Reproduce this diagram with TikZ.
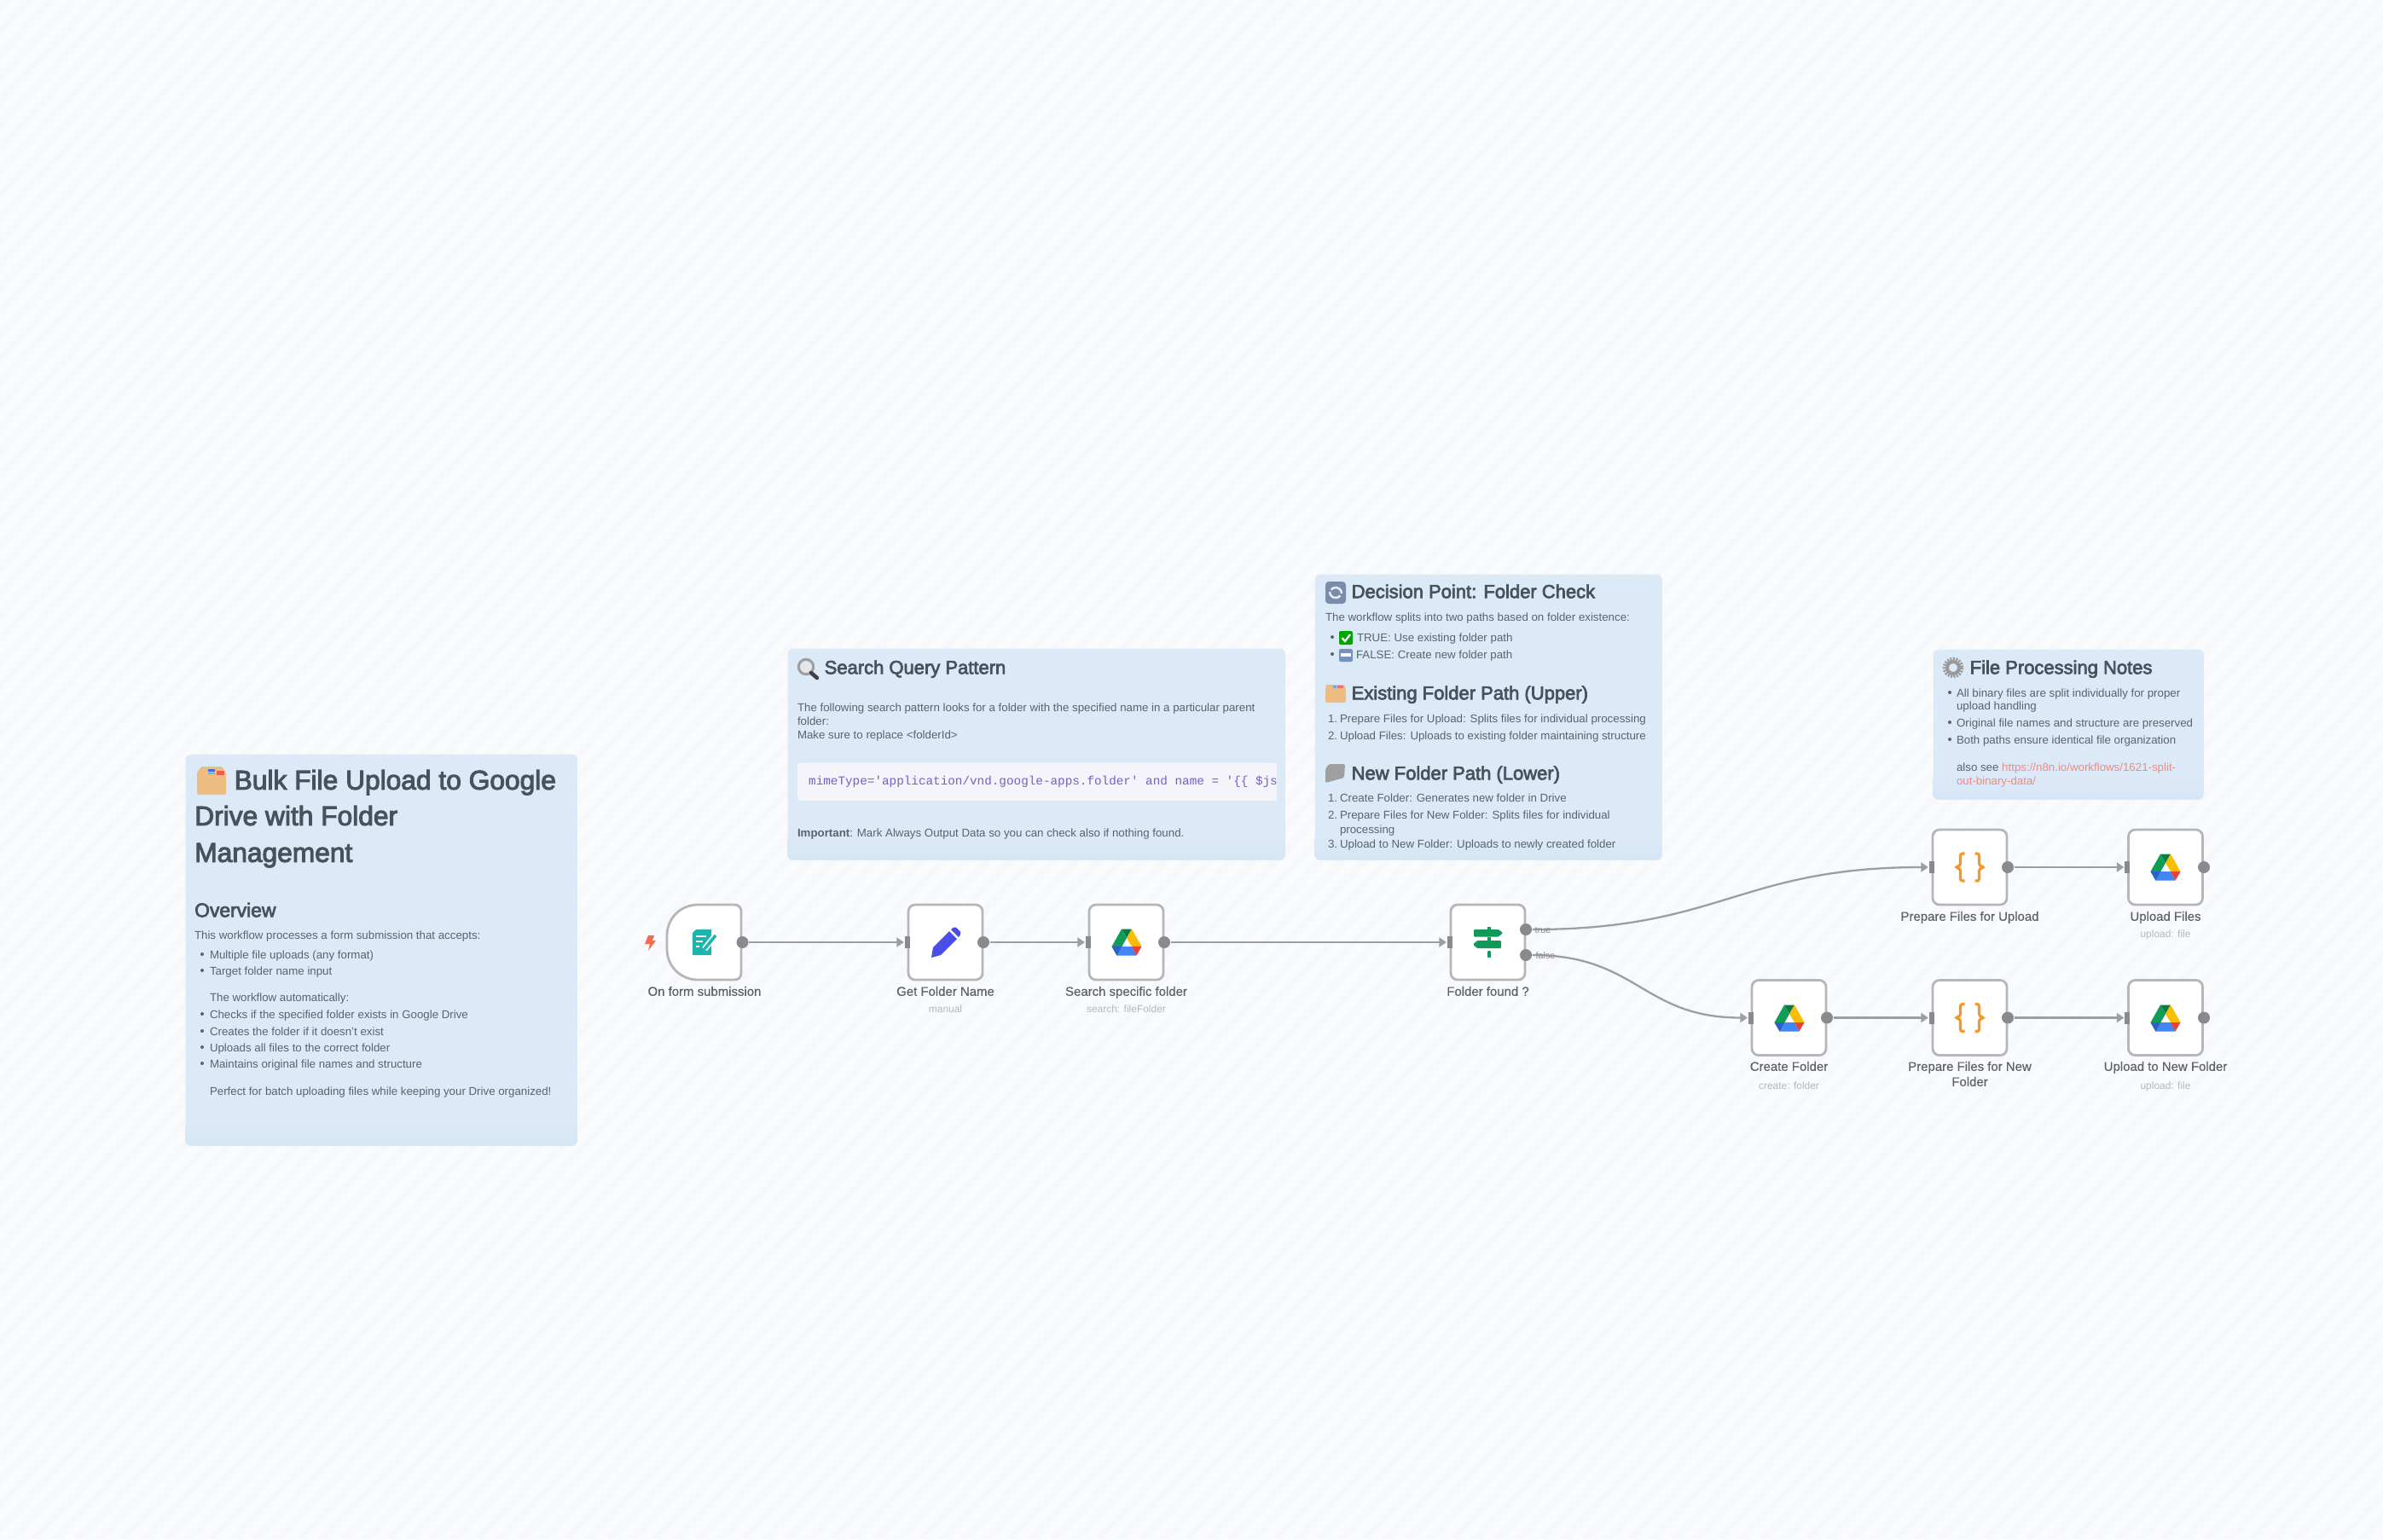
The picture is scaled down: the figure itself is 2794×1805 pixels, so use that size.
\documentclass[tikz,border=0pt]{standalone}
\usepackage{fontspec}
\setmainfont{Liberation Sans}
\newfontfamily\hf[FakeBold=3.2]{Liberation Sans}
\newfontfamily\lf[FakeBold=0.5]{Liberation Sans}
\newfontfamily\cf{Liberation Mono}
\usetikzlibrary{arrows.meta}
\definecolor{bgbase}{HTML}{F7F8FB}
\definecolor{bgstripe}{HTML}{FAFBFD}
\definecolor{notefill}{HTML}{DCEAF8}
\definecolor{noteshade}{HTML}{D6E5F4}
\definecolor{headc}{HTML}{48525C}
\definecolor{bodyc}{HTML}{59636E}
\definecolor{labelc}{HTML}{5E6268}
\definecolor{subc}{HTML}{B4B7BB}
\definecolor{wirec}{HTML}{9C9EA0}
\definecolor{portc}{HTML}{888A8D}
\definecolor{boxc}{HTML}{B4B6B9}
\definecolor{codec}{HTML}{6E63C9}
\definecolor{codebg}{HTML}{F4F4FA}
\definecolor{linkc}{HTML}{F08A84}
\definecolor{tanc}{HTML}{EDBC80}
\definecolor{dgreen}{HTML}{0F9D58}
\definecolor{dyellow}{HTML}{FBBC04}
\definecolor{dblue}{HTML}{4285F4}
\definecolor{dred}{HTML}{EA4335}
\definecolor{ddark}{HTML}{0B7A45}
\definecolor{dnavy}{HTML}{2A62C8}
\definecolor{bracec}{HTML}{F7962A}
\definecolor{ifc}{HTML}{0F9A5A}
\definecolor{penc}{HTML}{4A4DE8}
\definecolor{formc}{HTML}{1BB5AE}
\definecolor{boltc}{HTML}{F9694E}
\tikzset{
  x=0.01cm, y=-0.01cm,
  note/.style={anchor=north west, rounded corners=.06cm, fill=notefill, draw=none, inner sep=0},
  tx/.style={anchor=mid west, yshift=.04cm, inner sep=0, outer sep=0, text=bodyc, font=\fontsize{3.78}{4.2}\selectfont},
  title/.style={anchor=mid west, yshift=-.015cm, inner sep=0, text=headc, font=\hf\fontsize{9.02}{10}\selectfont},
  htwo/.style={anchor=mid west, yshift=.01cm, inner sep=0, text=headc, font=\hf\fontsize{6.5}{7.5}\selectfont},
  hthree/.style={anchor=mid west, yshift=.02cm, inner sep=0, text=headc, font=\hf\fontsize{6.25}{7}\selectfont},
  wfbox/.style={draw=boxc, line width=.028cm, fill=white, rounded corners=.08cm, minimum width=.87cm, minimum height=.88cm, inner sep=0},
  ghost/.style={minimum width=.87cm, minimum height=.88cm, inner sep=0},
  outport/.style={circle, fill=portc, minimum size=.14cm, inner sep=0},
  inport/.style={rectangle, fill=portc, minimum width=.06cm, minimum height=.14cm, inner sep=0},
  wire/.style={draw=wirec, line width=.023cm, -{Triangle[length=.085cm,width=.11cm]}},
  nlabel/.style={anchor=mid, yshift=.045cm, inner sep=0, text=labelc, align=center, font=\lf\fontsize{4.25}{4.9}\selectfont},
  nsub/.style={anchor=mid, yshift=.035cm, inner sep=0, text=subc, font=\fontsize{3.4}{4}\selectfont},
  wlabel/.style={anchor=mid, yshift=.05cm, inner sep=0, text=black!45, font=\fontsize{3.1}{3.6}\selectfont},
}
\newcommand{\drv}[2]{%
  \begin{scope}[shift={(#1,#2)}]
    \fill[ddark] (-6,-15.5) -- (6,-15.5) -- (0,-5) -- cycle;
    \fill[dgreen] (-6,-15.5) -- (0,-5) -- (-11.5,15.5) -- (-17.5,5) -- cycle;
    \fill[dyellow] (6,-15.5) -- (17.5,5) -- (6,5) -- (0,-5) -- cycle;
    \fill[dblue] (-6,5) -- (6,5) -- (11.5,15.5) -- (-11.5,15.5) -- cycle;
    \fill[dnavy] (-17.5,5) -- (-6,5) -- (-11.5,15.5) -- cycle;
    \fill[dred] (17.5,5) -- (11.5,15.5) -- (6,5) -- cycle;
  \end{scope}}
\newcommand{\brc}[2]{%
  \begin{scope}[shift={(#1,#2)}]
    \draw[bracec, line width=.032cm, rounded corners=.025cm] (-6,-16) -- (-11,-16) -- (-11,-2) -- (-17,0) -- (-11,2) -- (-11,16) -- (-6,16);
    \draw[bracec, line width=.032cm, rounded corners=.025cm] (6,-16) -- (11,-16) -- (11,-2) -- (17,0) -- (11,2) -- (11,16) -- (6,16);
  \end{scope}}
\newcommand{\fshade}[3]{\shade[top color=notefill, bottom color=noteshade, rounded corners=.06cm] (#1,#3-28) rectangle (#2,#3);}
\newcommand{\bul}[2]{\fill[bodyc] (#1,#2) circle[radius=2];}
\begin{document}
\begin{tikzpicture}
\useasboundingbox (0,0) rectangle (2794,1805);
\fill[bgbase] (0,0) rectangle (2794,1805);
\begin{scope}
  \clip (0,0) rectangle (2794,1805);
  \foreach \k in {0,...,180}{
    \draw[bgstripe, line width=.1cm] ({\k*26},-5) -- ({\k*26-1720},1810);
  }
\end{scope}

% ---------- sticky notes
\node[note, minimum width=4.59cm, minimum height=4.59cm] (noteA) at (217,884) {};
\fshade{217}{676}{1343}
\node[note, minimum width=5.83cm, minimum height=2.48cm] (noteB) at (923,760) {};
\fshade{923}{1506}{1008}
\node[note, minimum width=4.07cm, minimum height=3.35cm] (noteC) at (1541,673) {};
\fshade{1541}{1948}{1008}
\node[note, minimum width=3.17cm, minimum height=1.76cm] (noteD) at (2266,761) {};
\fshade{2266}{2583}{937}

% note A
\fill[tanc, rounded corners=.02cm] (231,905) rectangle (265,932);
\fill[tanc] (236,899) -- (260,899) -- (265,906) -- (231,906) -- cycle;
\fill[dred!85!white] (254,904) rectangle (263,909);
\fill[dblue!85!black] (244,902) rectangle (252,904.5);
\fill[dblue!70!white] (244,906) rectangle (252,908);
\node[title] (tA1) at (274,915) {Bulk File Upload to Google};
\node[title] (tA2) at (227.5,957) {Drive with Folder};
\node[title] (tA3) at (227.5,1000) {Management};
\node[htwo] (tA4) at (227.5,1067) {Overview};
\node[tx] (tA5) at (228,1096) {This workflow processes a form submission that accepts:};
\bul{237}{1119}\bul{237}{1138}
\node[tx] (tA6) at (246,1119) {Multiple file uploads (any format)};
\node[tx] (tA7) at (246,1138) {Target folder name input};
\node[tx] (tA8) at (246,1169) {The workflow automatically:};
\bul{237}{1189}\bul{237}{1209}\bul{237}{1228}\bul{237}{1247}
\node[tx] (tA9) at (246,1189) {Checks if the specified folder exists in Google Drive};
\node[tx] (tA10) at (246,1209) {Creates the folder if it doesn't exist};
\node[tx] (tA11) at (246,1228) {Uploads all files to the correct folder};
\node[tx] (tA12) at (246,1247) {Maintains original file names and structure};
\node[tx] (tA13) at (246,1279) {Perfect for batch uploading files while keeping your Drive organized!};

% note B
\draw[gray!75, line width=.035cm] (945,782) circle[radius=8.5];
\fill[white!80!gray!70!notefill] (945,782) circle[radius=7];
\draw[black!75, line width=.045cm, line cap=round] (951,789) -- (958,795);
\node[hthree] (tB1) at (966,783) {Search Query Pattern};
\node[tx] (tB2) at (935,829) {The following search pattern looks for a folder with the specified name in a particular parent};
\node[tx] (tB3) at (935,845) {folder:};
\node[tx] (tB4) at (935,861) {Make sure to replace <folderId>};
\node[anchor=north west, fill=codebg, rounded corners=.02cm, minimum width=5.615cm, minimum height=.44cm, inner sep=0] (codebox) at (934.5,894) {};
\begin{scope}
  \clip (934.5,894) rectangle (1496,938);
  \node[anchor=mid west, yshift=.05cm, inner sep=0, text=codec, font=\cf\fontsize{4.07}{5}\selectfont] (code) at (947.5,916) {mimeType='application/vnd.google-apps.folder' and name = '\{\{ \$json};
\end{scope}
\node[tx] (tB5) at (935,976) {\textbf{Important}: Mark Always Output Data so you can check also if nothing found.};

% note C
\fill[black!25!dblue!40!gray!80!notefill, rounded corners=.04cm] (1554,682) rectangle (1578,708);
\draw[white!85!dblue, line width=.025cm] (1559,694) arc[start angle=180, end angle=40, radius=7];
\draw[white!85!dblue, line width=.025cm] (1573,696) arc[start angle=0, end angle=-140, radius=7];
\node[hthree] (tC1) at (1584,694) {Decision Point: Folder Check};
\node[tx] (tC2) at (1554,723) {The workflow splits into two paths based on folder existence:};
\bul{1562}{747}\bul{1562}{767}
\fill[green!65!black, rounded corners=.02cm] (1570,740) rectangle (1586,756);
\draw[white, line width=.022cm] (1573.5,748) -- (1577,752) -- (1583,744);
\node[tx] (tC3) at (1591,747) {TRUE: Use existing folder path};
\fill[dblue!45!gray!85!notefill, rounded corners=.02cm] (1570,761) rectangle (1586,776);
\fill[white!85!notefill] (1572,766) rectangle (1584,770);
\node[tx] (tC4) at (1590,767) {FALSE: Create new folder path};
\fill[tanc, rounded corners=.015cm] (1554,808) rectangle (1578,824);
\fill[tanc] (1555,803) -- (1576,803) -- (1578,809) -- (1554,809) -- cycle;
\fill[dred!75!white] (1568,804) rectangle (1575,807);
\fill[dblue!75!white] (1563,804) rectangle (1567,807);
\node[hthree] (tC5) at (1584,813) {Existing Folder Path (Upper)};
\node[tx] (tC6a) at (1557,842) {1.};
\node[tx] (tC6) at (1571,842) {Prepare Files for Upload: Splits files for individual processing};
\node[tx] (tC7a) at (1557,862) {2.};
\node[tx] (tC7) at (1571,862) {Upload Files: Uploads to existing folder maintaining structure};
\fill[gray!75, rounded corners=.015cm] (1558,896) -- (1577,896) -- (1576,912) -- (1554,918) -- (1554,902) -- cycle;
\node[hthree] (tC8) at (1584,907) {New Folder Path (Lower)};
\node[tx] (tC9a) at (1557,935) {1.};
\node[tx] (tC9) at (1571,935) {Create Folder: Generates new folder in Drive};
\node[tx] (tC10a) at (1557,955) {2.};
\node[tx] (tC10) at (1571,955) {Prepare Files for New Folder: Splits files for individual};
\node[tx] (tC11) at (1571,972) {processing};
\node[tx] (tC12a) at (1557,989) {3.};
\node[tx] (tC12) at (1571,989) {Upload to New Folder: Uploads to newly created folder};

% note D
\draw[gray!80, line width=.035cm, dash pattern=on .02cm off .015cm] (2290,783) circle[radius=10.5];
\draw[gray!80, line width=.04cm] (2290,783) circle[radius=7];
\node[hthree] (tD1) at (2309,783) {File Processing Notes};
\bul{2286}{812}\bul{2286}{847}\bul{2286}{867}
\node[tx] (tD2) at (2294,812) {All binary files are split individually for proper};
\node[tx] (tD3) at (2294,827) {upload handling};
\node[tx] (tD4) at (2294,847) {Original file names and structure are preserved};
\node[tx] (tD5) at (2294,867) {Both paths ensure identical file organization};
\node[tx] (tD6) at (2294,899) {also see \textcolor{linkc}{https://n8n.io/workflows/1621-split-}};
\node[tx, text=linkc] (tD7) at (2294,915) {out-binary-data/};

% ---------- workflow nodes
\node[ghost] (form) at (825.5,1105) {};
\draw[draw=boxc, line width=.028cm, fill=white] (861,1061) -- (818,1061) .. controls (798,1061) and (782,1077) .. (782,1097) -- (782,1113) .. controls (782,1133) and (798,1149) .. (818,1149) -- (861,1149) .. controls (866,1149) and (869,1146) .. (869,1141) -- (869,1069) .. controls (869,1064) and (866,1061) .. (861,1061) -- cycle;
\node[wfbox] (get) at (1108.5,1105) {};
\node[wfbox] (search) at (1320.5,1105) {};
\node[wfbox] (iff) at (1744.5,1105) {};
\node[wfbox] (create) at (2097.5,1193.5) {};
\node[wfbox] (prepU) at (2309.5,1017) {};
\node[wfbox] (upF) at (2539,1017) {};
\node[wfbox] (prepN) at (2309.5,1193.5) {};
\node[wfbox] (upN) at (2539,1193.5) {};

% ports
\node[outport] (form-out) at (870.5,1105) {};
\node[outport] (get-out) at (1153,1105) {};
\node[outport] (search-out) at (1365,1105) {};
\node[outport] (iff-true) at (1789,1090) {};
\node[outport] (iff-false) at (1789,1120) {};
\node[outport] (create-out) at (2142,1193.5) {};
\node[outport] (prepU-out) at (2354,1017) {};
\node[outport] (upF-out) at (2584,1017) {};
\node[outport] (prepN-out) at (2354,1193.5) {};
\node[outport] (upN-out) at (2584,1193.5) {};
\node[inport] (get-in) at (get.west) {};
\node[inport] (search-in) at (search.west) {};
\node[inport] (iff-in) at (iff.west) {};
\node[inport] (create-in) at (create.west) {};
\node[inport] (prepU-in) at (prepU.west) {};
\node[inport] (upF-in) at (upF.west) {};
\node[inport] (prepN-in) at (prepN.west) {};
\node[inport] (upN-in) at (upN.west) {};

% connectors
\draw[wire] (form-out) -- (get-in);
\draw[wire] (get-out) -- (search-in);
\draw[wire] (search-out) -- (iff-in);
\draw[wire] (iff-true) to[out=0, in=180, looseness=1.2] (prepU-in);
\draw[wire] (iff-false) to[out=0, in=180, looseness=1.2] (create-in);
\draw[wire] (create-out) -- (prepN-in);
\draw[wire] (prepU-out) -- (upF-in);
\draw[wire] (prepN-out) -- (upN-in);
\node[wlabel] (l-true) at (1809,1090) {true};
\node[wlabel] (l-false) at (1812,1120) {false};

% icons
\fill[boltc] (760,1097) -- (767,1097) -- (765,1103) -- (769,1103) -- (760,1115) -- (762,1107) -- (756,1107) -- cycle;
\fill[formc] (812,1094) -- (816,1090) -- (834,1090) -- (834,1120) -- (812,1120) -- cycle;
\draw[white, line width=.02cm] (816,1098) -- (828,1098) (816,1104) -- (824,1104) (816,1110) -- (820,1110);
\draw[white, line width=.07cm] (826,1113) -- (838,1098);
\draw[formc, line width=.035cm] (826,1113) -- (839,1097);
\fill[penc] (1092,1123) -- (1094,1111) -- (1113,1092) -- (1122,1101) -- (1103,1120) -- cycle;
\fill[penc] (1115,1090) -- (1118,1087.5) -- (1121,1087.5) -- (1126,1092.5) -- (1126,1096) -- (1124,1099) -- cycle;
\drv{1321}{1105}
\fill[ifc] (1744,1087) rectangle (1748,1090);
\fill[ifc, rounded corners=.01cm] (1728,1090) -- (1757,1090) -- (1762,1094) -- (1757,1098.5) -- (1728,1098.5) -- cycle;
\fill[ifc] (1744,1098.5) rectangle (1748,1103);
\fill[ifc, rounded corners=.01cm] (1732,1103) -- (1760,1103) -- (1760,1112) -- (1732,1112) -- (1727,1107.5) -- cycle;
\fill[ifc, rounded corners=.01cm] (1744,1115) rectangle (1748,1123);
\drv{2098}{1194}
\brc{2309.5}{1017}
\drv{2539}{1017}
\brc{2309.5}{1193.5}
\drv{2539}{1194}

% labels
\node[nlabel] (form-l) at (826,1163) {On form submission};
\node[nlabel] (get-l) at (1108.5,1163) {Get Folder Name};
\node[nsub] (get-s) at (1108.5,1182) {manual};
\node[nlabel] (search-l) at (1320.5,1163) {Search specific folder};
\node[nsub] (search-s) at (1320.5,1182) {search: fileFolder};
\node[nlabel] (iff-l) at (1744.5,1163) {Folder found ?};
\node[nlabel] (create-l) at (2097.5,1251) {Create Folder};
\node[nsub] (create-s) at (2097.5,1272) {create: folder};
\node[nlabel] (prepU-l) at (2309.5,1075) {Prepare Files for Upload};
\node[nlabel] (upF-l) at (2539,1075) {Upload Files};
\node[nsub] (upF-s) at (2539,1094) {upload: file};
\node[nlabel] (prepN-l) at (2309.5,1251) {Prepare Files for New};
\node[nlabel] (prepN-m) at (2309.5,1269) {Folder};
\node[nlabel] (upN-l) at (2539,1251) {Upload to New Folder};
\node[nsub] (upN-s) at (2539,1272) {upload: file};
\end{tikzpicture}
\end{document}
